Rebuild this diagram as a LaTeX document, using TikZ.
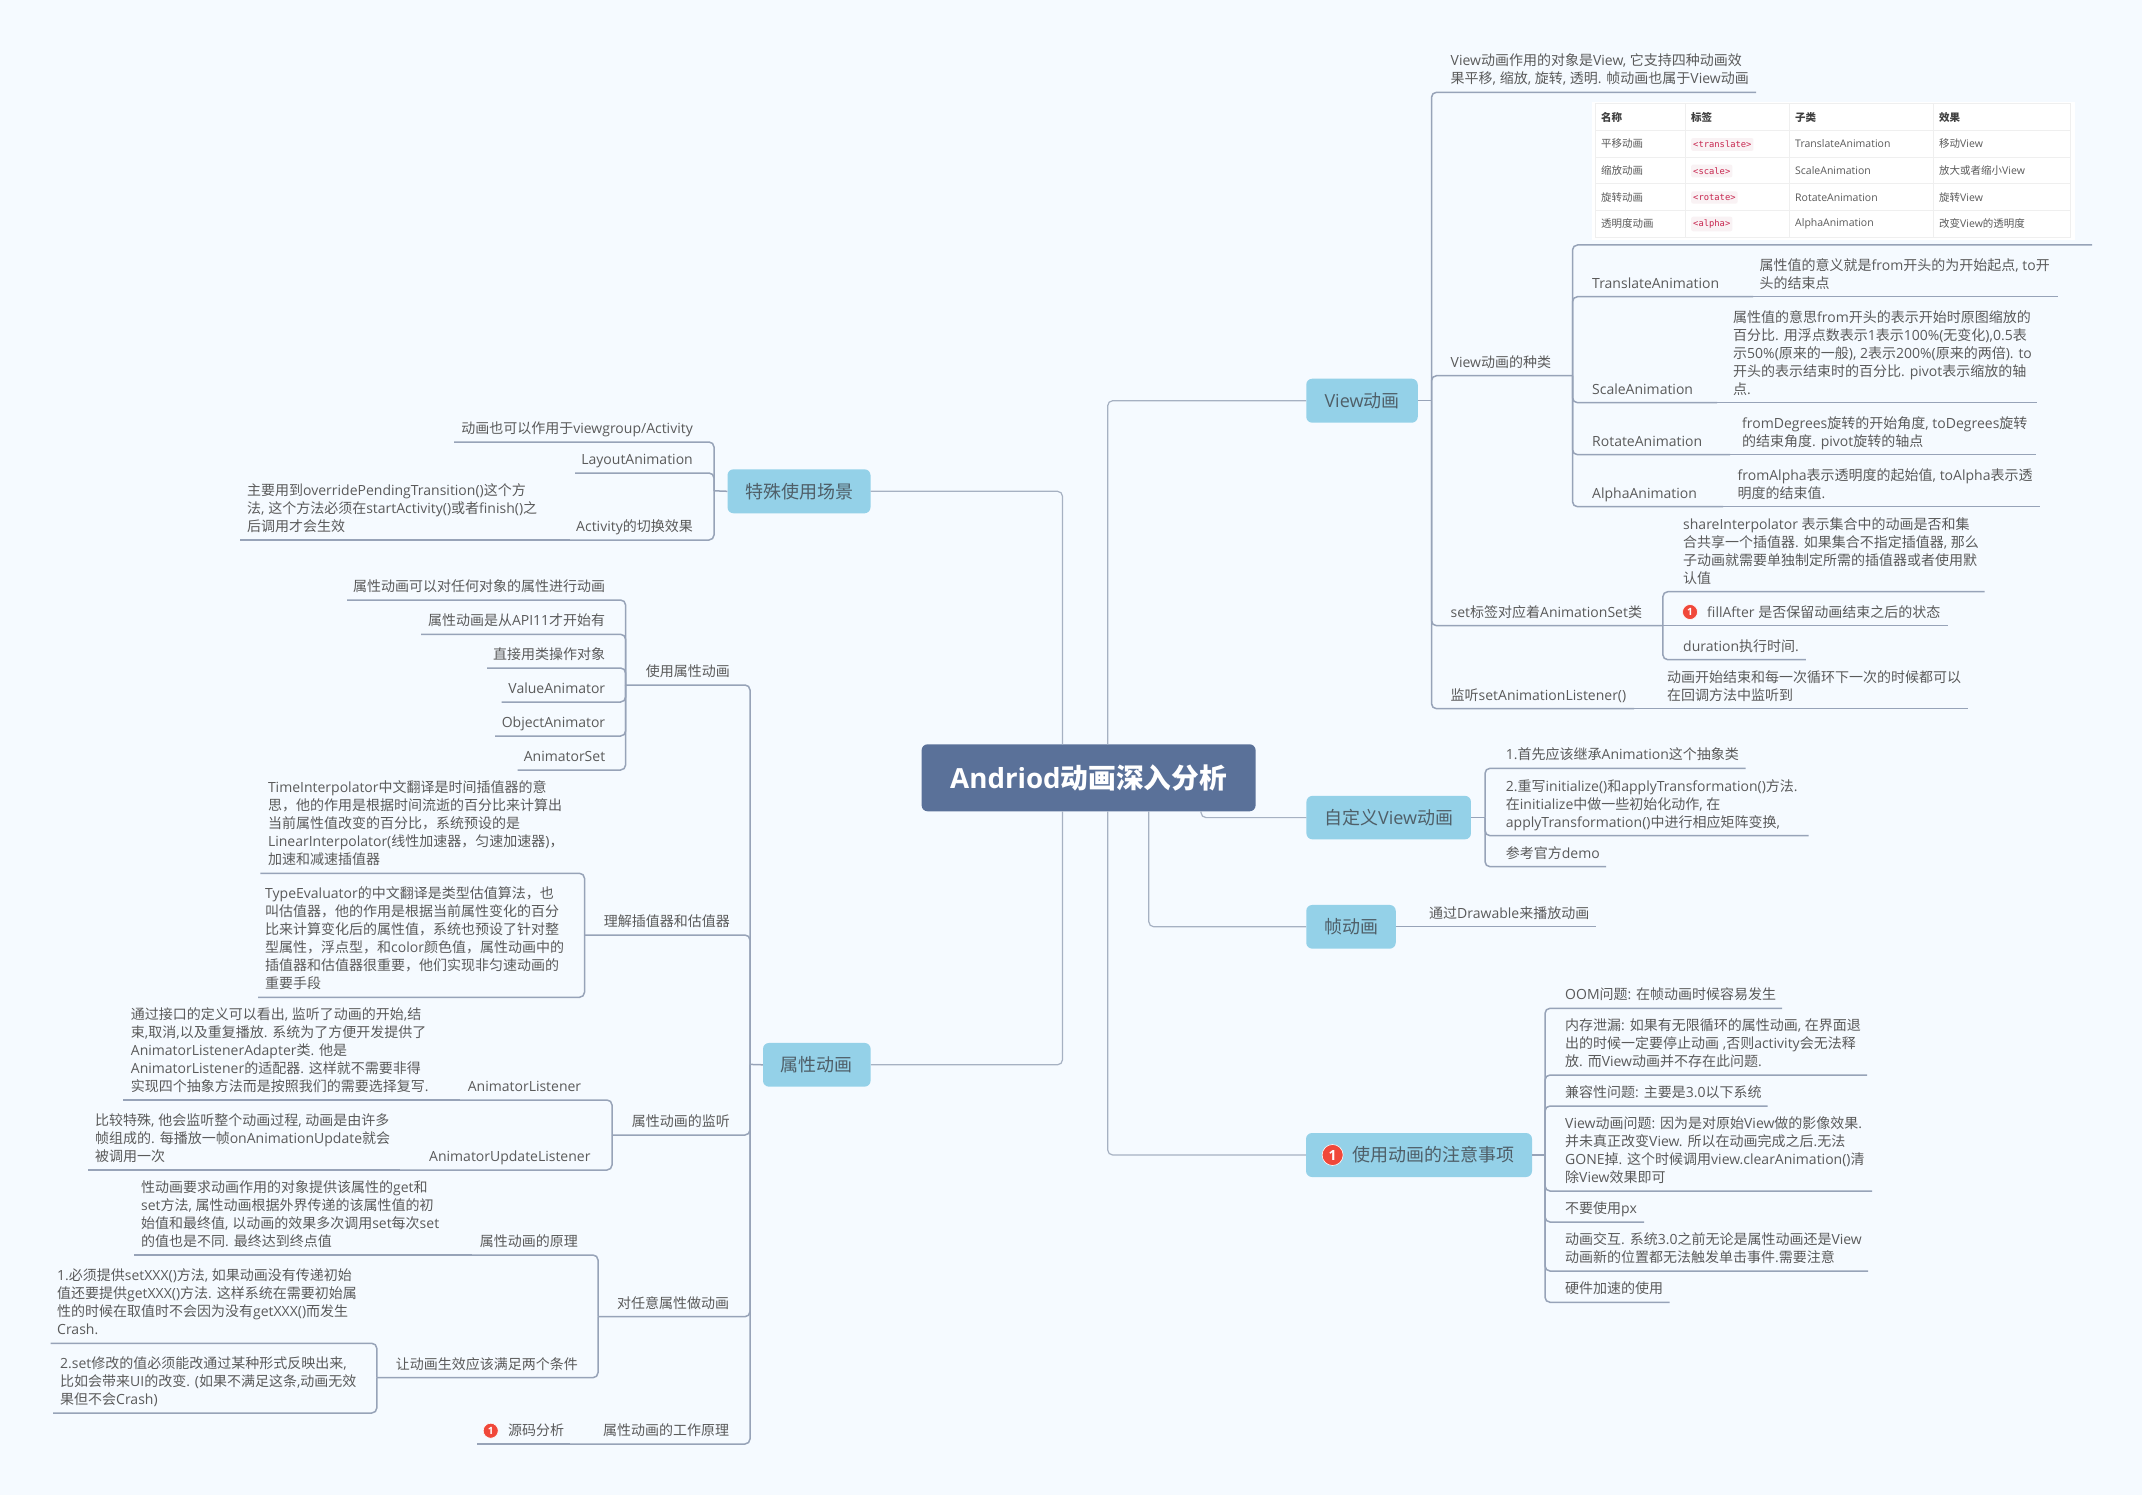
\documentclass[tikz,border=0pt]{standalone}
\usepackage{fontspec}
\setmainfont{Open Sans}
\newfontfamily\latf{Open Sans}
\newfontfamily\cjkf{Noto Sans CJK SC}
\newfontfamily\monof{DejaVu Sans Mono}
\XeTeXinterchartokenstate=1
\newXeTeXintercharclass\cjkclass
\makeatletter
\count@="4E00 \loop\ifnum\count@<"A000 \XeTeXcharclass\count@=\cjkclass \advance\count@ by 1 \repeat
\count@="3000 \loop\ifnum\count@<"3040 \XeTeXcharclass\count@=\cjkclass \advance\count@ by 1 \repeat
\count@="FF00 \loop\ifnum\count@<"FFF0 \XeTeXcharclass\count@=\cjkclass \advance\count@ by 1 \repeat
\makeatother
\XeTeXinterchartoks 0 \cjkclass={\cjkf}
\XeTeXinterchartoks 4095 \cjkclass={\cjkf}
\XeTeXinterchartoks \cjkclass 0={\latf}
\XeTeXinterchartoks 4095 0={\latf}
\XeTeXinterchartoks \cjkclass 4095={\latf}
\newcommand\badgefont{\XeTeXinterchartokenstate=0 \monof\fontsize{8.8}{10}\selectfont}
\definecolor{bgc}{HTML}{F5FAFF}
\definecolor{linec}{HTML}{97A3B8}
\definecolor{mainc}{HTML}{A6B1C2}
\definecolor{txtc}{HTML}{5A5A5A}
\definecolor{topicc}{HTML}{94D1E8}
\definecolor{topictxt}{HTML}{4F5F68}
\definecolor{rootc}{HTML}{5A7199}
\definecolor{tabline}{HTML}{EFEFEF}
\definecolor{pinkc}{HTML}{F9F2F4}
\definecolor{pinkt}{HTML}{C7254E}
\definecolor{iconc}{HTML}{F0483A}
\newcommand\nl{\\\strut}
\tikzset{
  txt/.style={inner sep=0pt,align=left,text=txtc,font=\fontsize{14}{18}\selectfont},
  br/.style={draw=linec,line width=1.5pt,rounded corners=5pt},
  mainbr/.style={draw=mainc,line width=1.2pt,rounded corners=5pt},
  topic/.style={fill=topicc,rounded corners=6pt,text=topictxt,inner sep=0pt,font=\fontsize{18}{22}\selectfont},
  root/.style={fill=rootc,rounded corners=6pt,text=white,inner sep=0pt,font=\fontsize{27.7}{32}\selectfont\bfseries},
  icon/.style={circle,fill=iconc,draw=white,line width=0.6pt,inner sep=0pt,minimum size=#1,text=white},
  tab/.style={inner sep=0pt,anchor=west,text=txtc,font=\fontsize{10.5}{12}\selectfont},
  tabh/.style={inner sep=0pt,anchor=west,text=black!75,font=\fontsize{10.5}{12}\selectfont\bfseries},
  badge/.style={fill=pinkc,rounded corners=2pt,text=pinkt,anchor=west,inner xsep=2pt,inner ysep=3pt,font=\badgefont}
}
% name, parent, xend, y, xtext, text  (text anchored by its left edge, elbow from the parent)
\newcommand\tl[6]{%
  \coordinate (#1-e) at (#3,#4);
  \node[txt,anchor=south west] (#1) at (#5,#4-3) {\strut #6};
  \draw[br] (#2-e) |- (#1-e);
}
% same, text anchored by its right edge
\newcommand\trr[6]{%
  \coordinate (#1-e) at (#3,#4);
  \node[txt,anchor=south east] (#1) at (#5,#4-3) {\strut #6};
  \draw[br] (#2-e) |- (#1-e);
}
% only child on the parent's line: straight continuation
\newcommand\tcn[6]{%
  \coordinate (#1-e) at (#3,#4);
  \node[txt,anchor=south west] (#1) at (#5,#4-3) {\strut #6};
  \draw[br] (#2-e) -- (#1-e);
}
\begin{document}
\begin{tikzpicture}[x=1pt,y=-1pt]
\fill[bgc] (0,0) rectangle (2142,1495);
\useasboundingbox (0,0) rectangle (2142,1495);

% root and main topics
\node[root,minimum width=334pt,minimum height=67pt] (root) at (1088.6,777.8) {Andriod动画深入分析};
\node[topic,minimum width=111.5pt,minimum height=44pt] (view) at (1362,400.7) {View动画};
\node[topic,minimum width=164.5pt,minimum height=43.5pt] (custom) at (1388.7,817.6) {自定义View动画};
\node[topic,minimum width=89.5pt,minimum height=43.7pt] (frame) at (1351,926.8) {帧动画};
\node[topic,minimum width=226pt,minimum height=44pt,align=left] (notes) at (1419,1155) {\hspace*{28pt}使用动画的注意事项};
\node[icon=21pt,font=\latf\bfseries\fontsize{14}{14}\selectfont] (notesicon) at (1332.6,1155) {1};
\node[topic,minimum width=143pt,minimum height=44pt] (special) at (799,491.3) {特殊使用场景};
\node[topic,minimum width=107.6pt,minimum height=43.7pt] (prop) at (816.8,1064.8) {属性动画};

% root connectors
\coordinate (tv) at (1107.7,744.3);
\coordinate (tn) at (1107.7,811.3);
\coordinate (tf) at (1148.8,811.3);
\coordinate (tc) at (1201,811.3);
\coordinate (ts) at (1062.5,744.3);
\coordinate (tp) at (1062.5,811.3);
\draw[mainbr] (tv) |- (view.west);
\draw[mainbr] (tn) |- (notes.west);
\draw[mainbr] (tf) |- (frame.west);
\draw[mainbr] (tc) |- (custom.west);
\draw[mainbr] (ts) |- (special.east);
\draw[mainbr] (tp) |- (prop.east);

% ---------- View
\coordinate (view-e) at (1431.5,400.7);
\draw[br] (view.east) -- (view-e);
\tl{va}{view}{1756}{92.3}{1450.5}{View动画作用的对象是View, 它支持四种动画效\nl 果平移, 缩放, 旋转, 透明. 帧动画也属于View动画}
\tl{kinds}{view}{1572.5}{375.7}{1450.5}{View动画的种类}

% table image
\coordinate (table-e) at (2092,245);
\draw[br] (kinds-e) |- (table-e);
\fill[white] (1592,102) rectangle (2075,240);
\draw[tabline,line width=1pt] (1595,104) rectangle (2070,237.3);
\foreach \cy in {130.7,157.3,184,210.7} \draw[tabline,line width=1pt] (1595,\cy) -- (2070,\cy);
\foreach \cx in {1685.6,1789,1933.5} \draw[tabline,line width=1pt] (\cx,104) -- (\cx,237.3);
\node[tabh] (h1) at (1601,117.5) {名称};
\node[tabh] (h2) at (1691,117.5) {标签};
\node[tabh] (h3) at (1795,117.5) {子类};
\node[tabh] (h4) at (1939,117.5) {效果};
\node[tab] (r1a) at (1601,144) {平移动画};
\node[badge] (r1b) at (1691,144.5) {<translate>};
\node[tab] (r1c) at (1795,144) {TranslateAnimation};
\node[tab] (r1d) at (1939,144) {移动View};
\node[tab] (r2a) at (1601,171) {缩放动画};
\node[badge] (r2b) at (1691,171) {<scale>};
\node[tab] (r2c) at (1795,171) {ScaleAnimation};
\node[tab] (r2d) at (1939,171) {放大或者缩小View};
\node[tab] (r3a) at (1601,197.5) {旋转动画};
\node[badge] (r3b) at (1691,197.5) {<rotate>};
\node[tab] (r3c) at (1795,197.5) {RotateAnimation};
\node[tab] (r3d) at (1939,197.5) {旋转View};
\node[tab] (r4a) at (1601,224) {透明度动画};
\node[badge] (r4b) at (1691,224) {<alpha>};
\node[tab] (r4c) at (1795,224) {AlphaAnimation};
\node[tab] (r4d) at (1939,224) {改变View的透明度};

\tl{kt}{kinds}{1753}{296.7}{1592}{TranslateAnimation}
\tcn{ktc}{kt}{2058}{296.7}{1759.5}{属性值的意义就是from开头的为开始起点, to开\nl 头的结束点}
\tl{ks}{kinds}{1717}{402.7}{1592}{ScaleAnimation}
\tcn{ksc}{ks}{2037}{402.7}{1733}{属性值的意思from开头的表示开始时原图缩放的\nl 百分比. 用浮点数表示1表示100\%(无变化),0.5表\nl 示50\%(原来的一般), 2表示200\%(原来的两倍). to\nl 开头的表示结束时的百分比. pivot表示缩放的轴\nl 点.}
\tl{kr}{kinds}{1730}{454.7}{1592}{RotateAnimation}
\tcn{krc}{kr}{2036}{454.7}{1742}{fromDegrees旋转的开始角度, toDegrees旋转\nl 的结束角度. pivot旋转的轴点}
\tl{ka}{kinds}{1723}{506.7}{1592}{AlphaAnimation}
\tcn{kac}{ka}{2039.6}{506.7}{1737.5}{fromAlpha表示透明度的起始值, toAlpha表示透\nl 明度的结束值.}

\tl{set}{view}{1662.8}{625.7}{1450.5}{set标签对应着AnimationSet类}
\tl{sa}{set}{1984.6}{591.7}{1683}{shareInterpolator 表示集合中的动画是否和集\nl 合共享一个插值器. 如果集合不指定插值器, 那么\nl 子动画就需要单独制定所需的插值器或者使用默\nl 认值}
\tcn{sb}{set}{1947.8}{625.7}{1707}{fillAfter 是否保留动画结束之后的状态}
\node[icon=15pt,font=\latf\bfseries\fontsize{10}{10}\selectfont] (sbicon) at (1690,612) {1};
\tl{sc}{set}{1805.8}{659.7}{1683}{duration执行时间.}
\tl{lis}{view}{1634}{708.7}{1450.5}{监听setAnimationListener()}
\tcn{lisc}{lis}{1967.7}{708.7}{1667}{动画开始结束和每一次循环下一次的时候都可以\nl 在回调方法中监听到}

% ---------- custom view
\coordinate (custom-e) at (1485,817.6);
\draw[br] (custom.east) -- (custom-e);
\tl{c1}{custom}{1745.6}{768.3}{1505.7}{1.首先应该继承Animation这个抽象类}
\tl{c2}{custom}{1808.7}{835.7}{1505.7}{2.重写initialize()和applyTransformation()方法.\nl 在initialize中做一些初始化动作, 在\nl applyTransformation()中进行相应矩阵变换,}
\tl{c3}{custom}{1606}{866.7}{1505.7}{参考官方demo}

% ---------- frame
\coordinate (frame-e) at (1395.7,926.6);
\tcn{f1}{frame}{1596.4}{926.6}{1429}{通过Drawable来播放动画}

% ---------- notes
\coordinate (notes-e) at (1545,1155);
\draw[br] (notes.east) -- (notes-e);
\tl{n1}{notes}{1782}{1008.3}{1565}{OOM问题: 在帧动画时候容易发生}
\tl{n2}{notes}{1867}{1075}{1565}{内存泄漏: 如果有无限循环的属性动画, 在界面退\nl 出的时候一定要停止动画 ,否则activity会无法释\nl 放. 而View动画并不存在此问题.}
\tl{n3}{notes}{1767.5}{1106}{1565}{兼容性问题: 主要是3.0以下系统}
\tl{n4}{notes}{1872}{1191}{1565}{View动画问题: 因为是对原始View做的影像效果.\nl 并未真正改变View. 所以在动画完成之后.无法\nl GONE掉. 这个时候调用view.clearAnimation()清\nl 除View效果即可}
\tl{n5}{notes}{1644}{1222}{1565}{不要使用px}
\tl{n6}{notes}{1868}{1271}{1565}{动画交互. 系统3.0之前无论是属性动画还是View\nl 动画新的位置都无法触发单击事件.需要注意}
\tl{n7}{notes}{1669.5}{1302.3}{1565}{硬件加速的使用}

% ---------- special
\coordinate (special-e) at (714,490.8);
\draw[br] (special.west) -- (special-e);
\trr{s1}{special}{454}{442}{693}{动画也可以作用于viewgroup/Activity}
\trr{s2}{special}{575}{473}{693}{LayoutAnimation}
\trr{s3}{special}{570}{540}{693}{Activity的切换效果}
\tcn{s3c}{s3}{240}{540}{247}{主要用到overridePendingTransition()这个方\nl 法, 这个方法必须在startActivity()或者finish()之\nl 后调用才会生效}

% ---------- property
\coordinate (prop-e) at (750,1064.4);
\draw[br] (prop.west) -- (prop-e);
\trr{p1}{prop}{625.6}{685}{730}{使用属性动画}
\trr{u1}{p1}{347}{600}{605.4}{属性动画可以对任何对象的属性进行动画}
\trr{u2}{p1}{421}{634.3}{605.4}{属性动画是从API11才开始有}
\trr{u3}{p1}{487}{668}{605.4}{直接用类操作对象}
\trr{u4}{p1}{501.5}{702}{605.4}{ValueAnimator}
\trr{u5}{p1}{495}{736}{605.4}{ObjectAnimator}
\trr{u6}{p1}{517.5}{770}{605.4}{AnimatorSet}
\trr{p2}{prop}{584.5}{935}{730}{理解插值器和估值器}
\tl{v1}{p2}{260.4}{873.3}{267.8}{TimeInterpolator中文翻译是时间插值器的意\nl 思，他的作用是根据时间流逝的百分比来计算出\nl 当前属性值改变的百分比，系统预设的是\nl LinearInterpolator(线性加速器，匀速加速器)，\nl 加速和减速插值器}
\tl{v2}{p2}{258}{997.3}{265}{TypeEvaluator的中文翻译是类型估值算法，也\nl 叫估值器，他的作用是根据当前属性变化的百分\nl 比来计算变化后的属性值，系统也预设了针对整\nl 型属性，浮点型，和color颜色值，属性动画中的\nl 插值器和估值器很重要，他们实现非匀速动画的\nl 重要手段}
\trr{p3}{prop}{612}{1135}{730}{属性动画的监听}
\trr{w1}{p3}{460}{1100}{581.4}{AnimatorListener}
\tcn{w1c}{w1}{123}{1100}{130.7}{通过接口的定义可以看出, 监听了动画的开始,结\nl 束,取消,以及重复播放. 系统为了方便开发提供了\nl AnimatorListenerAdapter类. 他是\nl AnimatorListener的适配器. 这样就不需要非得\nl 实现四个抽象方法而是按照我们的需要选择复写.}
\trr{w2}{p3}{400}{1170}{590.7}{AnimatorUpdateListener}
\tcn{w2c}{w2}{88}{1170}{95}{比较特殊, 他会监听整个动画过程, 动画是由许多\nl 帧组成的. 每播放一帧onAnimationUpdate就会\nl 被调用一次}
\trr{p4}{prop}{598}{1316.7}{729.4}{对任意属性做动画}
\trr{x1}{p4}{472}{1255}{578}{属性动画的原理}
\tcn{x1c}{x1}{134}{1255}{141}{性动画要求动画作用的对象提供该属性的get和\nl set方法, 属性动画根据外界传递的该属性值的初\nl 始值和最终值, 以动画的效果多次调用set每次set\nl 的值也是不同. 最终达到终点值}
\trr{x2}{p4}{376.8}{1377.7}{578}{让动画生效应该满足两个条件}
\tl{y1}{x2}{50.6}{1343.3}{57}{1.必须提供setXXX()方法, 如果动画没有传递初始\nl 值还要提供getXXX()方法. 这样系统在需要初始属\nl 性的时候在取值时不会因为没有getXXX()而发生\nl Crash.}
\tl{y2}{x2}{53}{1413}{60}{2.set修改的值必须能改通过某种形式反映出来,\nl 比如会带来UI的改变. (如果不满足这条,动画无效\nl 果但不会Crash)}
\trr{p5}{prop}{570}{1444}{729.4}{属性动画的工作原理}
\tcn{src}{p5}{477}{1444}{508}{源码分析}
\node[icon=15pt,font=\latf\bfseries\fontsize{10}{10}\selectfont] (srcicon) at (490.7,1430.7) {1};
\end{tikzpicture}
\end{document}
